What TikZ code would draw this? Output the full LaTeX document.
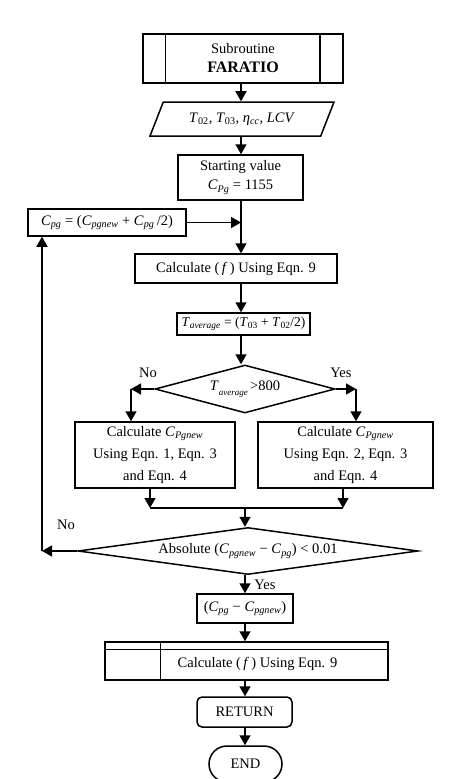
\documentclass[tikz,border=0pt]{standalone}
\usepackage{fontspec}
\setmainfont{Liberation Serif}
\usetikzlibrary{arrows.meta,shapes.geometric,shapes.misc}
\newcommand{\sbs}[1]{\textsubscript{#1}}
\newcommand{\isb}[1]{\textsubscript{\itshape #1}}
\begin{document}
\begin{tikzpicture}[x=1pt,y=-1pt, line width=1.5pt,
  font=\fontsize{14.5}{19}\selectfont,
  box/.style={draw, rectangle, inner sep=2pt, align=center},
  arr/.style={-{Triangle[length=10pt,width=11pt]}},
  lbl/.style={inner sep=0pt}]
\useasboundingbox (0,0) rectangle (474,779);
\fill[white] (0,0) rectangle (474,779);

% nodes
\node[box, minimum width=200pt, minimum height=49pt] (sub) at (243,58.5)
  {Subroutine\\{\fontsize{16}{19}\selectfont\bfseries FARATIO}};
\draw ([xshift=23pt]sub.north west) -- ([xshift=23pt]sub.south west);
\draw ([xshift=-24pt]sub.north east) -- ([xshift=-24pt]sub.south east);

\node[draw, trapezium, trapezium left angle=51.5, trapezium right angle=128.5,
  trapezium stretches body, minimum height=34pt, minimum width=184pt, inner sep=2pt] (io) at (242,119)
  {\textit{T}\sbs{02}, \textit{T}\sbs{03}, \textit{η}\isb{cc}, \textit{LCV}};

\node[box, minimum width=125pt, minimum height=45pt] (start) at (240.5,177.5)
  {Starting value\\\textit{C}\isb{Pg} = 1155};

\node[box, minimum width=158pt, minimum height=27pt] (cpg) at (107,222.5)
  {\textit{C}\isb{pg} = (\textit{C}\isb{pgnew} + \textit{C}\isb{pg}\,/2)};

\node[box, minimum width=202pt, minimum height=29pt] (calc1) at (236,268.5)
  {Calculate (\,\textit{f}\,) Using Eqn. 9};

\node[box, minimum width=133pt, minimum height=22pt, inner sep=1pt, font=\fontsize{13.5}{16}\selectfont] (tavg) at (243.5,324)
  {\textit{T}\isb{average} = (\textit{T}\sbs{03} + \textit{T}\sbs{02}/2)};

\node[draw, diamond, aspect=3.75, inner sep=0pt, minimum width=180pt, minimum height=48pt] (dia1) at (245,389)
  {\textit{T}\raisebox{-5pt}{\fontsize{9}{9}\selectfont\itshape average}\,{>}800};

\node[box, minimum width=160pt, minimum height=66pt, font=\fontsize{14.5}{22}\selectfont] (lbox) at (155,455)
  {Calculate \textit{C}\isb{Pgnew}\\Using Eqn. 1, Eqn. 3\\and Eqn. 4};
\node[box, minimum width=175pt, minimum height=66pt, font=\fontsize{14.5}{22}\selectfont] (rbox) at (345.5,455)
  {Calculate \textit{C}\isb{Pgnew}\\Using Eqn. 2, Eqn. 3\\and Eqn. 4};

\node[draw, diamond, aspect=7.2, inner sep=0pt, minimum width=340pt, minimum height=47pt] (dia2) at (248,551)
  {Absolute (\textit{C}\isb{pgnew} − \textit{C}\isb{pg}) {<} 0.01};

\node[box, minimum width=96pt, minimum height=29pt] (yesb) at (245,608.5)
  {(\textit{C}\isb{pg} − \textit{C}\isb{pgnew})};

\node[box, minimum width=283pt, minimum height=38pt] (calc2) at (246.5,661) {};
\draw ([yshift=-8pt]calc2.north west) -- ([yshift=-8pt]calc2.north east);
\draw ([xshift=56pt]calc2.north west) -- ([xshift=56pt]calc2.south west);
\node[lbl] (calc2t) at (257.5,664) {Calculate (\,\textit{f}\,) Using Eqn. 9};

\node[box, rounded corners=5pt, minimum width=95pt, minimum height=30pt] (ret) at (244.5,712) {RETURN};
\node[draw, rounded rectangle, minimum width=77pt, minimum height=36pt, inner sep=2pt] (endn) at (245.5,764) {END};

% labels
\node[lbl] (no1) at (148,373) {No};
\node[lbl] (yes1) at (341,373) {Yes};
\node[lbl] (no2) at (66,525) {No};
\node[lbl] (yes2) at (265,585) {Yes};

% coordinates
\coordinate (mx) at (241,0);
\coordinate (lc) at (131,389);
\coordinate (rc) at (356,389);
\coordinate (jl) at (150,508);
\coordinate (jr) at (343,508);
\coordinate (jm) at (245,508);
\coordinate (lp) at (42,551);

% connectors
\draw[arr] (sub.south -| mx) -- (io.north -| mx);
\draw[arr] (io.south -| mx) -- (start.north -| mx);
\draw[arr] (start.south -| mx) -- (calc1.north -| mx);
\draw[arr] (cpg.east) -- (cpg.east -| mx);
\draw[arr] (calc1.south -| mx) -- (tavg.north -| mx);
\draw[arr] (tavg.south -| mx) -- (dia1.north -| mx);
\draw[arr] (dia1.west) -- (lc);
\draw[arr] (lc) -- (lc |- lbox.north);
\draw[arr] (dia1.east) -- (rc);
\draw[arr] (rc) -- (rc |- rbox.north);
\draw[arr] (lbox.south -| jl) -- (jl);
\draw[arr] (rbox.south -| jr) -- (jr);
\draw (jl) -- (jr);
\draw[arr] (jm) -- (jm |- dia2.north);
\draw[arr] (dia2.west) -- (lp);
\draw[arr] (lp) -- (lp |- cpg.south);
\draw[arr] (dia2.south -| jm) -- (yesb.north -| jm);
\draw[arr] (yesb.south -| jm) -- (calc2.north -| jm);
\draw[arr] (calc2.south -| jm) -- (ret.north -| jm);
\draw[arr] (ret.south -| jm) -- (endn.north -| jm);
\end{tikzpicture}
\end{document}
